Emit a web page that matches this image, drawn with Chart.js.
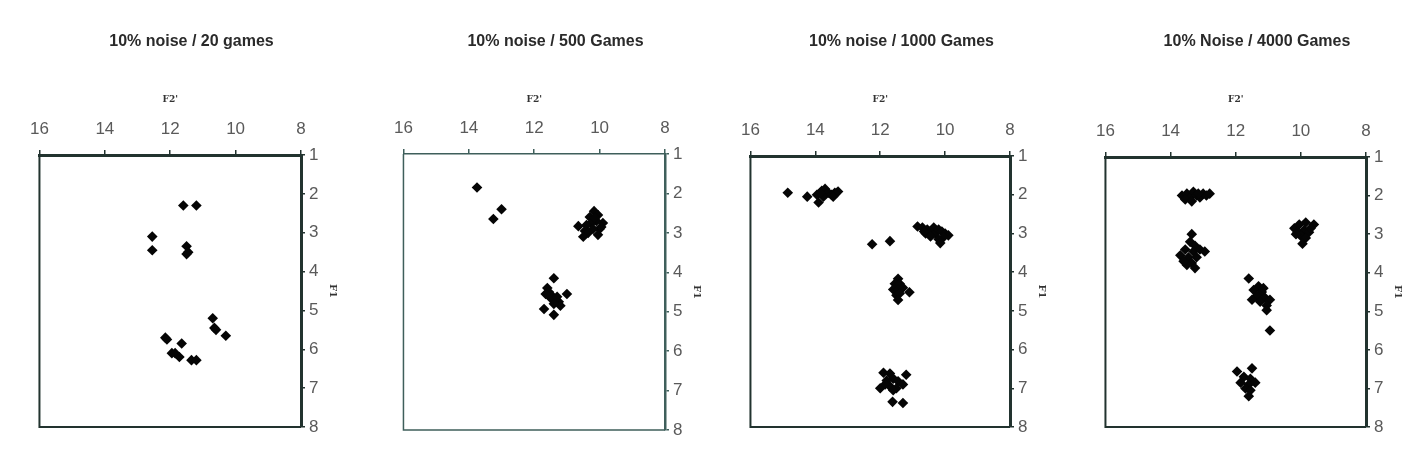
<!DOCTYPE html>
<html>
<head>
<meta charset="utf-8">
<script src="https://cdn.jsdelivr.net/npm/chart.js@4/dist/chart.umd.min.js"></script>
<style>
  html, body { margin: 0; padding: 0; background: #fff; }
  body { width: 1415px; height: 456px; position: relative; overflow: hidden; }
  .panel { position: absolute; top: 0; height: 456px; }
</style>
</head>
<body>
<div class="panel" id="p1"><canvas id="c1"></canvas></div>
<div class="panel" id="p2"><canvas id="c2"></canvas></div>
<div class="panel" id="p3"><canvas id="c3"></canvas></div>
<div class="panel" id="p4"><canvas id="c4"></canvas></div>
<script>
// titles and tick labels
const titles = ["10% noise / 20 games", "10% noise / 500 Games", "10% noise / 1000 Games", "10% Noise / 4000 Games"];
const xTicks = [16, 14, 12, 10, 8];
const yTicks = [1, 2, 3, 4, 5, 6, 7, 8];

// 20 games
const games20X = [11.6, 11.2, 12.55, 12.55, 11.5, 11.5, 11.45, 10.7, 10.65, 10.6, 10.3, 12.15, 12.1, 11.65, 11.95, 11.85, 11.72, 11.35, 11.2];
const games20Y = [2.3, 2.3, 3.1, 3.45, 3.35, 3.55, 3.5, 5.2, 5.45, 5.5, 5.65, 5.7, 5.75, 5.85, 6.1, 6.1, 6.2, 6.28, 6.28];

// 500 games
const games500X = [13.75, 13.0, 13.25,
  10.17, 10.05, 10.3, 10.1, 9.9, 10.25, 10.4, 10.65, 10.0, 10.2, 10.45, 10.35, 10.05, 10.5, 10.15, 9.95,
  11.4, 11.0, 11.7, 11.4, 11.6, 11.55, 11.45, 11.35, 11.25, 11.5, 11.65, 11.2, 11.4, 11.3];
const games500Y = [1.85, 2.4, 2.65,
  2.45, 2.55, 2.6, 2.7, 2.75, 2.75, 2.8, 2.83, 2.9, 2.9, 2.95, 3.0, 3.05, 3.1, 2.62, 2.85,
  4.15, 4.55, 4.93, 5.08, 4.4, 4.5, 4.6, 4.7, 4.75, 4.65, 4.55, 4.85, 4.8, 4.62];

// 1000 games
const games1000X = [14.85, 14.25, 13.9, 13.95, 13.8, 13.7, 13.6, 13.5, 13.4, 13.3, 13.45, 13.75, 13.85,
  12.25, 11.7,
  10.85, 10.7, 10.55, 10.6, 10.45, 10.35, 10.3, 10.2, 10.1, 10.0, 9.9, 10.05, 10.2, 10.15, 10.45, 10.65,
  11.45, 11.55, 11.4, 11.6, 11.45, 11.3, 11.1, 11.5, 11.4, 11.45,
  11.9, 11.7, 11.2, 11.6, 11.8, 11.45, 12.0, 11.7, 11.5, 11.3, 11.6, 11.62, 11.3, 11.85];
const games1000Y = [1.95, 2.05, 2.2, 2.0, 1.9, 1.85, 1.95, 2.0, 1.95, 1.92, 2.05, 2.05, 1.95,
  3.28, 3.2,
  2.82, 2.85, 2.9, 3.0, 2.95, 2.85, 3.0, 2.9, 2.95, 3.0, 3.05, 3.1, 3.15, 3.25, 3.08, 2.95,
  4.17, 4.3, 4.3, 4.45, 4.45, 4.4, 4.52, 4.6, 4.55, 4.72,
  6.6, 6.62, 6.65, 6.75, 6.8, 6.82, 7.0, 6.95, 7.0, 6.9, 7.05, 7.35, 7.38, 6.9];

// 4000 games
const games4000X = [13.65, 13.5, 13.4, 13.3, 13.2, 13.1, 13.0, 12.9, 12.8, 13.55, 13.35, 13.15,
  13.35, 13.4, 13.25, 13.55, 13.3, 13.1, 12.95, 13.7, 13.45, 13.2, 13.35, 13.5, 13.25, 13.6,
  10.2, 10.05, 9.85, 9.6, 9.9, 10.1, 9.75, 10.0, 9.85, 9.95, 9.7, 10.15,
  11.6, 11.3, 11.45, 11.2, 11.35, 11.1, 11.5, 10.95, 11.25, 11.05, 11.05, 11.15,
  10.95,
  11.96, 11.5, 11.75, 11.55, 11.85, 11.6, 11.4, 11.7, 11.55, 11.6];
const games4000Y = [2.0, 1.95, 2.05, 1.9, 2.0, 2.05, 1.95, 2.0, 1.95, 2.1, 2.15, 1.95,
  3.0, 3.2, 3.3, 3.4, 3.45, 3.4, 3.45, 3.55, 3.6, 3.6, 3.75, 3.8, 3.88, 3.7,
  2.85, 2.75, 2.7, 2.75, 2.9, 2.95, 2.95, 3.05, 3.1, 3.25, 2.85, 3.0,
  4.15, 4.35, 4.45, 4.5, 4.6, 4.65, 4.7, 4.7, 4.75, 4.85, 4.97, 4.4,
  5.5,
  6.56, 6.48, 6.7, 6.75, 6.85, 6.9, 6.85, 7.0, 7.05, 7.2];

const seriesX = [games20X, games500X, games1000X, games4000X];
const seriesY = [games20Y, games500Y, games1000Y, games4000Y];

// plot area boxes in page pixels: left, right, top, bottom
const boxes = [
  [36, 301, 155, 427],
  [400, 665, 154, 430],
  [747, 1010, 156, 427],
  [1102, 1366, 157, 427]
];
const lineColors = ['#22332f', '#3f5f5b', '#22332f', '#22332f'];
const thinW = [2, 1.5, 2, 2];
const topW = [3, 1.5, 3, 3];
const rightW = [3, 2.5, 3, 3];

const PAD_L = 16, AXIS_W = 46, TITLE_H = 59.2;

// left and bottom edges of the frame
const framePlugin = {
  id: 'frame',
  afterDatasetsDraw(chart, args, opts) {
    const a = chart.chartArea, ctx = chart.ctx;
    ctx.save();
    ctx.strokeStyle = opts.color;
    ctx.lineWidth = opts.width;
    ctx.beginPath();
    ctx.moveTo(a.left, a.top);
    ctx.lineTo(a.left, a.bottom);
    ctx.lineTo(a.right, a.bottom);
    ctx.stroke();
    ctx.restore();
  }
};

for (let i = 0; i < 4; i++) {
  const [L, R, T, B] = boxes[i];
  const wrap = document.getElementById('p' + (i + 1));
  wrap.style.left = (L - PAD_L) + 'px';
  wrap.style.width = (R - L + PAD_L + AXIS_W) + 'px';

  const pts = seriesX[i].map((x, k) => ({ x: x, y: seriesY[i][k] }));

  new Chart(document.getElementById('c' + (i + 1)), {
    type: 'scatter',
    data: {
      datasets: [{
        data: pts,
        pointStyle: 'rectRot',
        pointRadius: 5.3,
        pointHoverRadius: 5.3,
        backgroundColor: '#050505',
        borderColor: '#050505',
        borderWidth: 0
      }]
    },
    plugins: [framePlugin],
    options: {
      responsive: true,
      maintainAspectRatio: false,
      animation: false,
      events: [],
      layout: { padding: { left: PAD_L, right: 0, top: 0, bottom: 456 - B } },
      plugins: {
        legend: { display: false },
        tooltip: { enabled: false },
        frame: { color: lineColors[i], width: thinW[i] },
        title: {
          display: true,
          text: titles[i],
          color: '#2a2a2a',
          font: { family: 'Liberation Sans, Arial, sans-serif', size: 16, weight: 'bold' },
          padding: { top: 32, bottom: 8 }
        }
      },
      scales: {
        x: {
          type: 'linear',
          position: 'top',
          reverse: true,
          min: 8,
          max: 16,
          afterBuildTicks: s => { s.ticks = xTicks.map(v => ({ value: v })); },
          afterFit: s => { s.height = T - TITLE_H; },
          ticks: {
            color: '#5a5a5a',
            padding: 10,
            maxRotation: 0,
            font: { family: 'Liberation Sans, Arial, sans-serif', size: 17 }
          },
          grid: { drawOnChartArea: false, tickLength: 5, color: lineColors[i], lineWidth: 1.5 },
          border: { color: lineColors[i], width: topW[i] },
          title: {
            display: true,
            text: "F2'",
            color: '#333',
            font: { family: 'DejaVu Serif, serif', size: 9, weight: 'bold' },
            padding: { top: 35, bottom: 0 }
          }
        },
        y: {
          type: 'linear',
          position: 'right',
          reverse: true,
          min: 1,
          max: 8,
          afterBuildTicks: s => { s.ticks = yTicks.map(v => ({ value: v })); },
          afterFit: s => { s.width = AXIS_W; },
          ticks: {
            color: '#5a5a5a',
            padding: 4,
            font: { family: 'Liberation Sans, Arial, sans-serif', size: 17 }
          },
          grid: { drawOnChartArea: false, tickLength: 4, color: lineColors[i], lineWidth: 1.5 },
          border: { color: lineColors[i], width: rightW[i] },
          title: {
            display: true,
            text: 'F1',
            color: '#333',
            font: { family: 'DejaVu Serif, serif', size: 10, weight: 'bold' },
            padding: { top: 8, bottom: 0 }
          }
        }
      }
    }
  });
}
</script>
</body>
</html>
